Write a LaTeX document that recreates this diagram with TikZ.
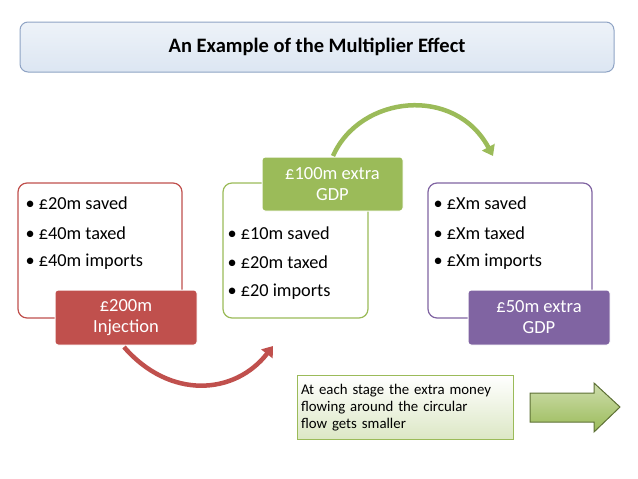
\documentclass[tikz,border=0pt]{standalone}
\usepackage{fontspec}
\setmainfont{Carlito}
\usetikzlibrary{arrows.meta}
\definecolor{cred}{HTML}{C0504D}
\definecolor{cgreen}{HTML}{9BBB59}
\definecolor{cpurp}{HTML}{8064A2}
\definecolor{ctitle}{HTML}{DCE6F2}
\definecolor{ctitleb}{HTML}{8EA3C4}
\tikzset{
 outer/.style={draw=#1, line width=1.2pt, rounded corners=9pt, fill=white},
 label/.style={fill=#1, draw=white, line width=1pt, rounded corners=3pt, text=white, font=\fontsize{18.5}{21}\selectfont, align=center},
 bul/.style={anchor=west, font=\fontsize{18.3}{21}\selectfont},
 curvarr/.style={draw=#1, line width=4.5pt, -{Triangle[length=10pt,width=14pt]}}
}
\begin{document}
\begin{tikzpicture}[x=1pt,y=-1pt]
\useasboundingbox (0,0) rectangle (638,479);
\node[draw=ctitleb, line width=1pt, rounded corners=8pt, top color=ctitle!50, bottom color=ctitle, minimum width=594, minimum height=50, font=\bfseries\fontsize{20.5}{22}\selectfont] (title) at (317,47) {An Example of the Multiplier Effect};
% left
\node[outer=cred, minimum width=164, minimum height=135] (lb) at (100,250.5) {};
\node[bul] (l1) at (22,203) {• £20m saved};
\node[bul] (l2) at (22,233) {• £40m taxed};
\node[bul] (l3) at (22,262) {• £40m imports};
\node[label=cred, minimum width=142, minimum height=55] (ll) at (126,317.5) {£200m\\Injection};
% middle
\node[outer=cgreen, minimum width=145, minimum height=135] (mb) at (295.5,250.5) {};
\node[label=cgreen, minimum width=141, minimum height=54] (ml) at (332.5,184) {£100m extra\\GDP};
\node[bul] (m1) at (224,233) {• £10m saved};
\node[bul] (m2) at (224,262) {• £20m taxed};
\node[bul] (m3) at (224,292) {• £20 imports};
% right
\node[outer=cpurp, minimum width=164, minimum height=135] (rb) at (510,250.5) {};
\node[bul] (r1) at (430,203) {• £Xm saved};
\node[bul] (r2) at (430,233) {• £Xm taxed};
\node[bul] (r3) at (430,262) {• £Xm imports};
\node[label=cpurp, minimum width=142, minimum height=55] (rl) at (539,317.5) {£50m extra\\GDP};
% arrows
\coordinate (ra) at (124,347);
\coordinate (rb2) at (273,346);
\draw[curvarr=cred] (ra) .. controls (170,400) and (235,395) .. (rb2);
\coordinate (ga) at (333,156);
\coordinate (gb) at (493,156);
\draw[curvarr=cgreen] (ga) .. controls (360,95) and (455,85) .. (gb);
% note
\node[draw=cgreen, line width=1pt, top color=white, bottom color=cgreen!35, minimum width=216, minimum height=64, text width=208, align=left, font=\fontsize{14.8}{17}\selectfont] (note) at (405,407.5) {At each stage the extra money\\flowing around the circular\\flow gets smaller};
% big arrow
\draw[draw=cgreen!60!black, line width=1pt, top color=cgreen!50!white, bottom color=cgreen] (530,393) -- (594,393) -- (594,383) -- (620,407) -- (594,432) -- (594,422) -- (530,422) -- cycle;
\end{tikzpicture}
\end{document}
